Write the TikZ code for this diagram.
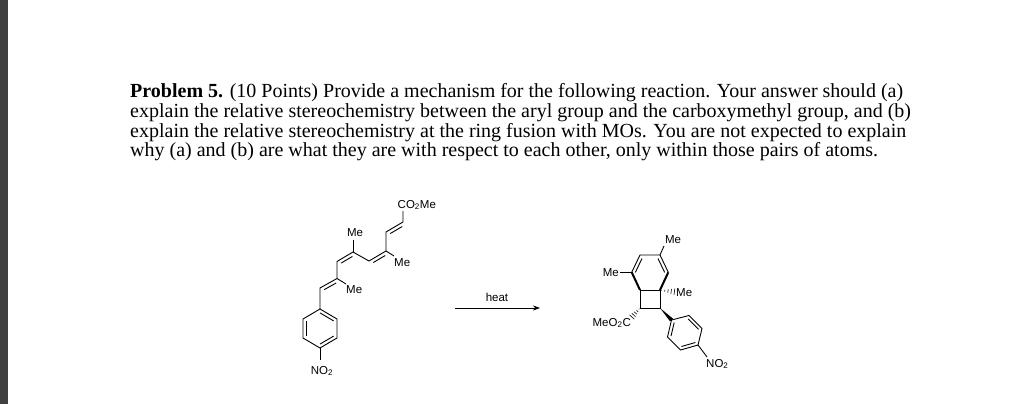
\documentclass[tikz,border=0pt]{standalone}
\usepackage{fontspec}
\setmainfont{Liberation Serif}
\newfontfamily\chem{Liberation Sans}
\usetikzlibrary{calc,arrows.meta}
\tikzset{bond/.style={line width=0.9pt},lab/.style={font=\chem\fontsize{11.5}{12}\selectfont,inner sep=0pt},
txt/.style={anchor=base west,inner sep=0pt,font=\fontsize{20}{22}\selectfont}}
\newcommand\dbl[3]{\draw[bond] ($(#1)!0.15!(#2)!3.5pt!#3:(#2)$) -- ($(#2)!0.15!(#1)!3.5pt!-#3:(#1)$);}
\newcommand\ring[7]{% vertices 1..6, center
\draw[bond] (#1)--(#2)--(#3)--(#4)--(#5)--(#6)--cycle;}
\newcommand\inner[3]{\draw[bond] ($(#1)!0.2!(#3)$) -- ($(#2)!0.2!(#3)$);}
\newcommand\hash[3]{\foreach \t in {0.1,0.3,...,1.0}{\draw[line width=0.6pt] ($(#1)!\t!(#2)!{\t*#3}!90:(#2)$) -- ($(#1)!\t!(#2)!{\t*#3}!-90:(#2)$);}}
\begin{document}
\begin{tikzpicture}[x=1pt,y=-1pt]
\useasboundingbox (0,0) rectangle (1018,404);
\fill[white] (0,0) rectangle (1018,404);
\fill[black!75] (0,0) rectangle (8,404);
\node[txt] (l1) at (130,98) {\textbf{Problem 5.} (10 Points) Provide a mechanism for the following reaction. Your answer should (a)};
\node[txt] (l2) at (130,117.5) {explain the relative stereochemistry between the aryl group and the carboxymethyl group, and (b)};
\node[txt] (l3) at (130,137) {explain the relative stereochemistry at the ring fusion with MOs. You are not expected to explain};
\node[txt] (l4) at (130,156.5) {why (a) and (b) are what they are with respect to each other, only within those pairs of atoms.};
% left molecule
\coordinate (a1) at (320,309); \coordinate (a2) at (337,319); \coordinate (a3) at (337,338);
\coordinate (a4) at (320,348); \coordinate (a5) at (303,338); \coordinate (a6) at (303,319);
\coordinate (ac) at (320,328.5);
\ring{a1}{a2}{a3}{a4}{a5}{a6}{ac}
\inner{a6}{a5}{ac}\inner{a1}{a2}{ac}\inner{a3}{a4}{ac}
\coordinate (c1) at (320,288); \coordinate (c2) at (337,278.5); \coordinate (c3) at (337,261.5);
\coordinate (c4) at (353,252); \coordinate (c5) at (369,261); \coordinate (c6) at (386,251);
\coordinate (c7) at (386,232); \coordinate (c8) at (403,222); \coordinate (c9) at (403,211);
\draw[bond] (a1)--(c1)--(c2)--(c3)--(c4)--(c5)--(c6)--(c7)--(c8)--(c9);
\dbl{c1}{c2}{-90}\dbl{c3}{c4}{-90}\dbl{c5}{c6}{-90}\dbl{c7}{c8}{-90}
\draw[bond] (a4)--(320,360); \node[lab] (n1) at (322,371) {NO\textsubscript{2}};
\node[lab,anchor=west] (co) at (397.5,205) {CO\textsubscript{2}Me};
\draw[bond] (c4)--(353,240); \node[lab] (m1) at (355,233) {Me};
\draw[bond] (c2)--(346,284); \node[lab,anchor=west] (m2) at (346,290) {Me};
\draw[bond] (c6)--(394,256); \node[lab,anchor=west] (m3) at (394,263) {Me};
% arrow
\node[lab] (heat) at (497,297) {heat};
\coordinate (ar1) at (455,308); \coordinate (ar2) at (540,308);
\draw[line width=0.8pt,-{Stealth[length=7pt,width=5pt]}] (ar1)--(ar2);
% right molecule
\coordinate (h1) at (640,290); \coordinate (h2) at (631.7,272.3); \coordinate (h3) at (640,255);
\coordinate (h4) at (660,255); \coordinate (h5) at (668.3,272.3); \coordinate (h6) at (660,290);
\coordinate (hc) at (650,272.5);
\draw[bond] (h2)--(h3)--(h4)--(h5); \draw[bond] (h6)--(h1);
\draw[line width=2pt] (h1)--(h2); \draw[line width=2pt] (h5)--(h6);
\inner{h2}{h3}{hc}\inner{h4}{h5}{hc}
\coordinate (s3) at (660,308); \coordinate (s4) at (640,308);
\draw[bond] (h6)--(s3)--(s4)--(h1);
\draw[bond] (h2)--(620,272.3); \node[lab,anchor=east] (m4) at (619,272.5) {Me};
\draw[bond] (h4)--(664,246); \node[lab] (m5) at (673,240) {Me};
\hash{h6}{676,292}{3.5pt}\node[lab,anchor=west] (m6) at (676,293) {Me};
\hash{s4}{631,318}{3.5pt}\node[lab,anchor=east] (est) at (631,323) {MeO\textsubscript{2}C};
\coordinate (b1) at (671.5,320); \coordinate (b2) at (689,315.5); \coordinate (b3) at (702,328.5);
\coordinate (b4) at (698,345); \coordinate (b5) at (680.5,350); \coordinate (b6) at (667.5,337);
\coordinate (bc) at (685,332.5);
\fill ($(s3)$) -- ($(b1)!2pt!90:(s3)$) -- ($(b1)!2pt!-90:(s3)$) -- cycle;
\ring{b1}{b2}{b3}{b4}{b5}{b6}{bc}
\inner{b2}{b3}{bc}\inner{b4}{b5}{bc}\inner{b6}{b1}{bc}
\draw[bond] (b4)--(707,357); \node[lab,anchor=west] (n2) at (706,364) {NO\textsubscript{2}};
\end{tikzpicture}
\end{document}
